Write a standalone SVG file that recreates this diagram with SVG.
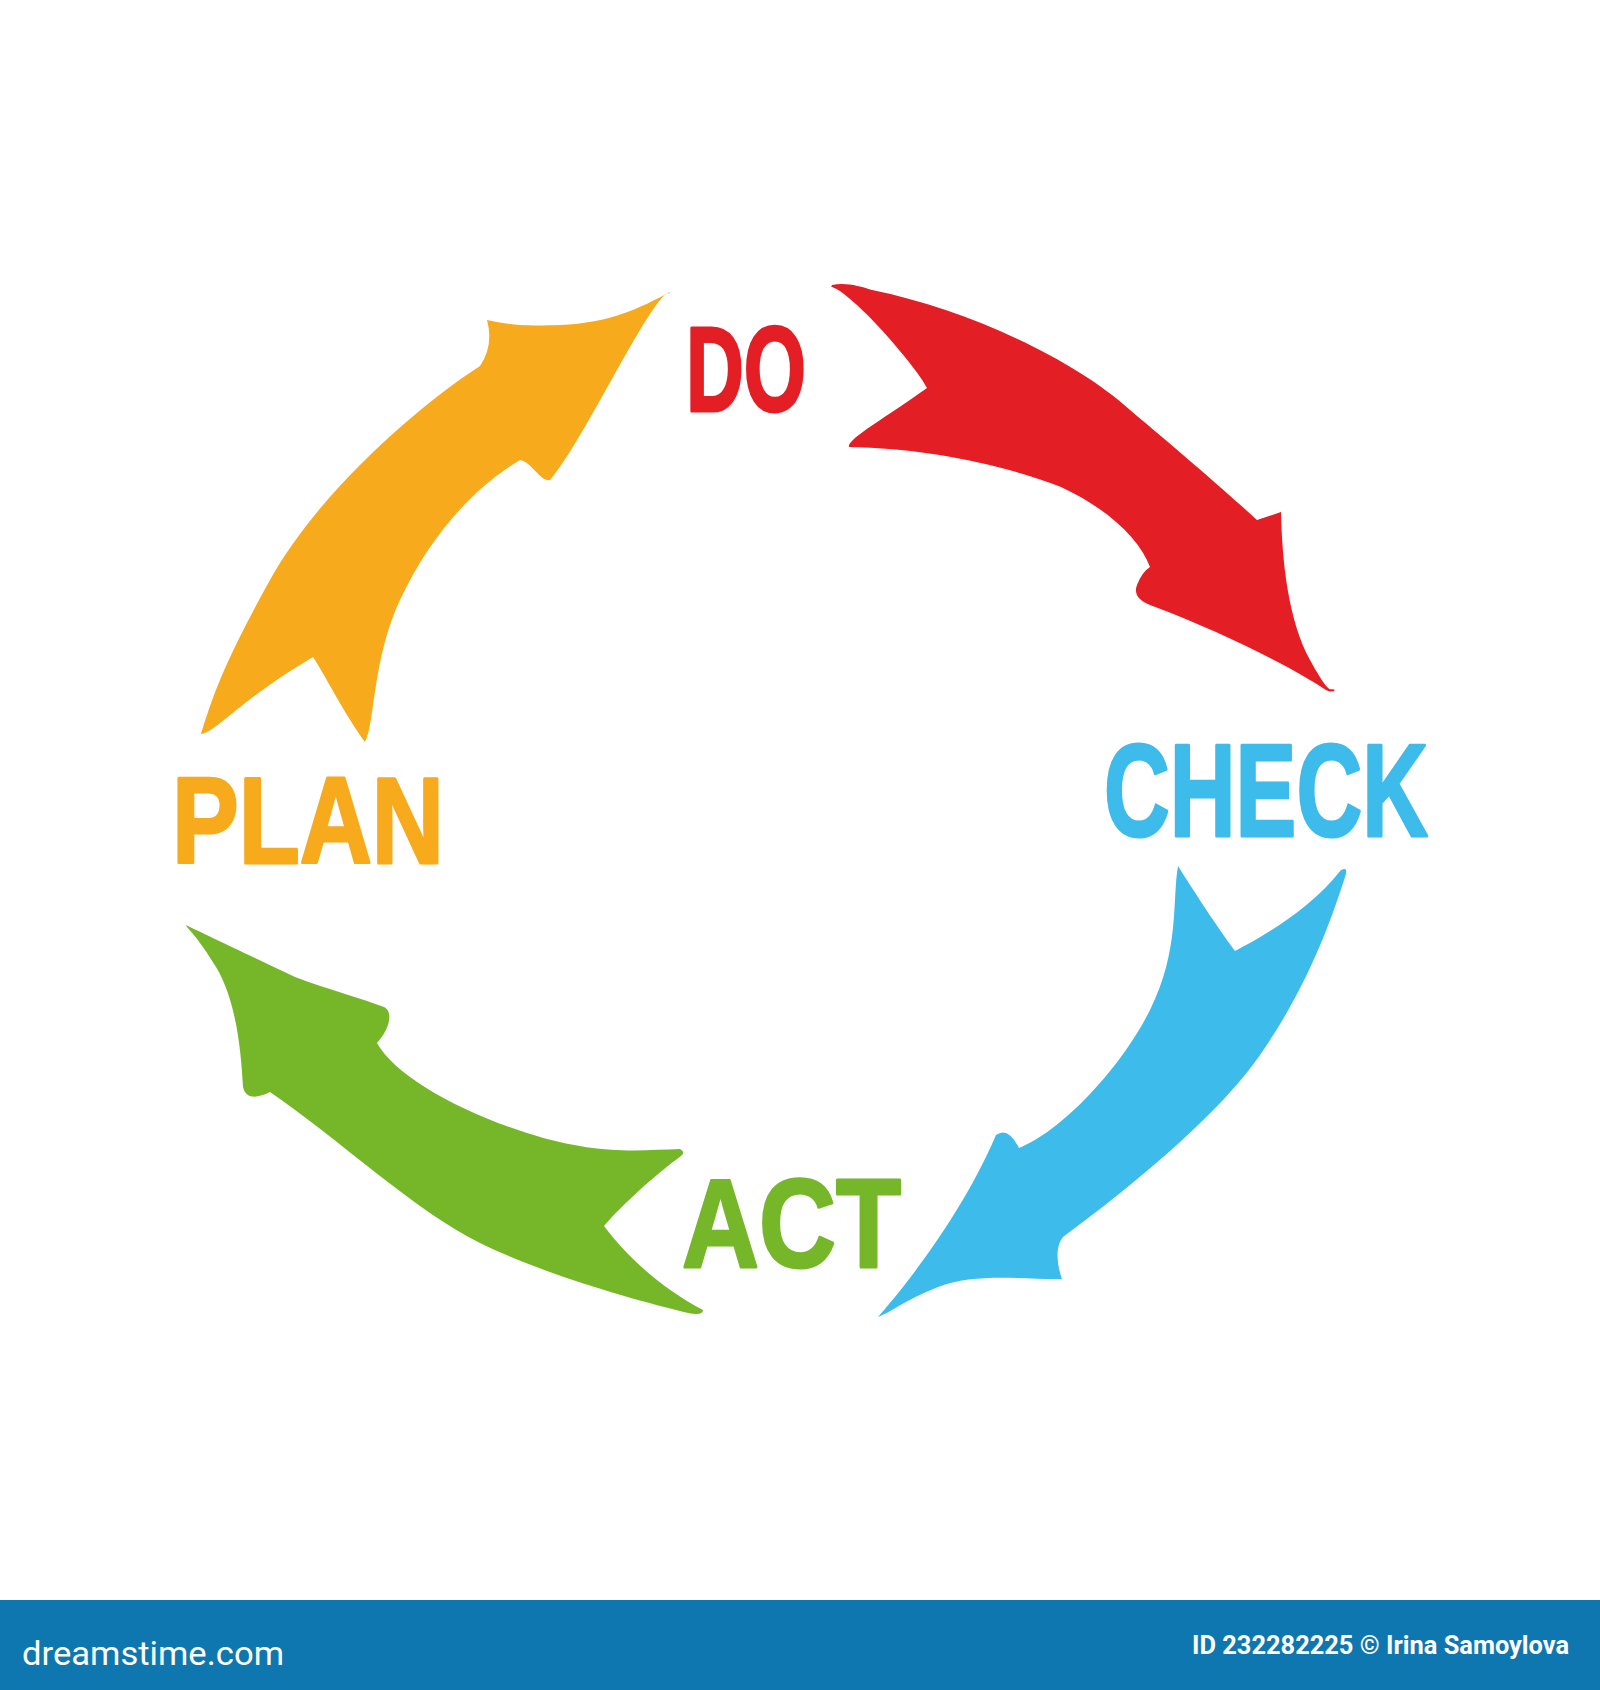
<svg xmlns="http://www.w3.org/2000/svg" width="1600" height="1690" viewBox="0 0 1600 1690">
<style>
.lbl{font-family:"Liberation Sans",Arial,sans-serif;font-weight:bold;stroke-linejoin:round}
.plan{fill:#f6aa1c;stroke:#f6aa1c;stroke-width:3}
.do{fill:#e31e24;stroke:#e31e24;stroke-width:3}
.check{fill:#3dbbeb;stroke:#3dbbeb;stroke-width:3}
.act{fill:#76b72a;stroke:#76b72a;stroke-width:3}
.foot{font-family:Roboto,"Liberation Sans",Arial,sans-serif;fill:#ffffff}
</style>
<rect width="1600" height="1690" fill="#ffffff"/>
<g id="connectors">
  <path id="arrow-plan-do" fill="#f6aa1c" d="M670,292 C640,308 610,323 560,325 S500,322 487,320 Q494,345 480,366 C420,405 320,490 270,580 S212,700 201,734 C215,733 240,700 313,657 C325,675 345,715 365,742 C375,725 372,660 400,600 S470,490 520,460 C532,462 540,482 550,480 C575,450 610,380 640,330 S668,298 670,292 Z"/>
  <path id="arrow-do-check" fill="#e31e24" d="M832,285 C845,282 860,286 872,290 C970,310 1075,360 1130,410 C1180,452 1230,495 1257,520 L1281,512 C1282,560 1288,620 1310,660 S1330,686 1335,690 Q1332,693 1326,690 C1300,672 1230,635 1150,605 Q1132,598 1137,585 Q1142,572 1150,567 C1140,540 1110,510 1061,487 C1005,465 925,448 849,447 C846,440 885,418 927,388 C919,372 884,330 857,305 S830,290 832,285 Z"/>
  <path id="arrow-check-act" fill="#3dbbeb" d="M1178,866 C1187,880 1212,920 1235,951 C1260,938 1310,910 1341,870 Q1349,866 1345,877 C1328,930 1305,990 1260,1055 S1120,1195 1063,1237 C1054,1248 1058,1268 1062,1279 C1030,1280 975,1272 938,1287 S895,1310 878,1317 C895,1298 960,1220 996,1135 Q1008,1126 1019,1148 C1060,1132 1120,1070 1150,1010 S1172,900 1178,866 Z"/>
  <path id="arrow-act-plan" fill="#76b72a" d="M186,925 C202,933 255,958 295,977 C330,990 360,998 384,1007 C394,1012 389,1030 377,1043 C395,1075 455,1110 527,1133 S640,1150 680,1149 Q686,1152 681,1156 C655,1175 622,1205 604,1226 C622,1250 655,1285 703,1310 Q703,1316 688,1313 C635,1300 545,1275 480,1243 S340,1140 270,1092 C258,1098 246,1100 243,1087 C241,1050 236,1000 216,967 S188,930 186,925 Z"/>
</g>
<g id="node-plan"><text class="lbl plan" x="172" y="863" font-size="123" textLength="272" lengthAdjust="spacingAndGlyphs">PLAN</text></g>
<g id="node-do"><text class="lbl do" x="686" y="411" font-size="120" textLength="120" lengthAdjust="spacingAndGlyphs">DO</text></g>
<g id="node-check"><text class="lbl check" x="1104" y="836" font-size="131" textLength="324" lengthAdjust="spacingAndGlyphs">CHECK</text></g>
<g id="node-act"><text class="lbl act" x="682" y="1267" font-size="126" textLength="219" lengthAdjust="spacingAndGlyphs">ACT</text></g>
<g id="footer">
  <rect x="0" y="1600" width="1600" height="90" fill="#0f77b0"/>
  <text class="foot" x="22" y="1665" font-size="34" textLength="262" lengthAdjust="spacingAndGlyphs">dreamstime.com</text>
  <text class="foot" x="1192" y="1654" font-size="26" font-weight="bold" textLength="377" lengthAdjust="spacingAndGlyphs">ID 232282225 © Irina Samoylova</text>
</g>
</svg>
